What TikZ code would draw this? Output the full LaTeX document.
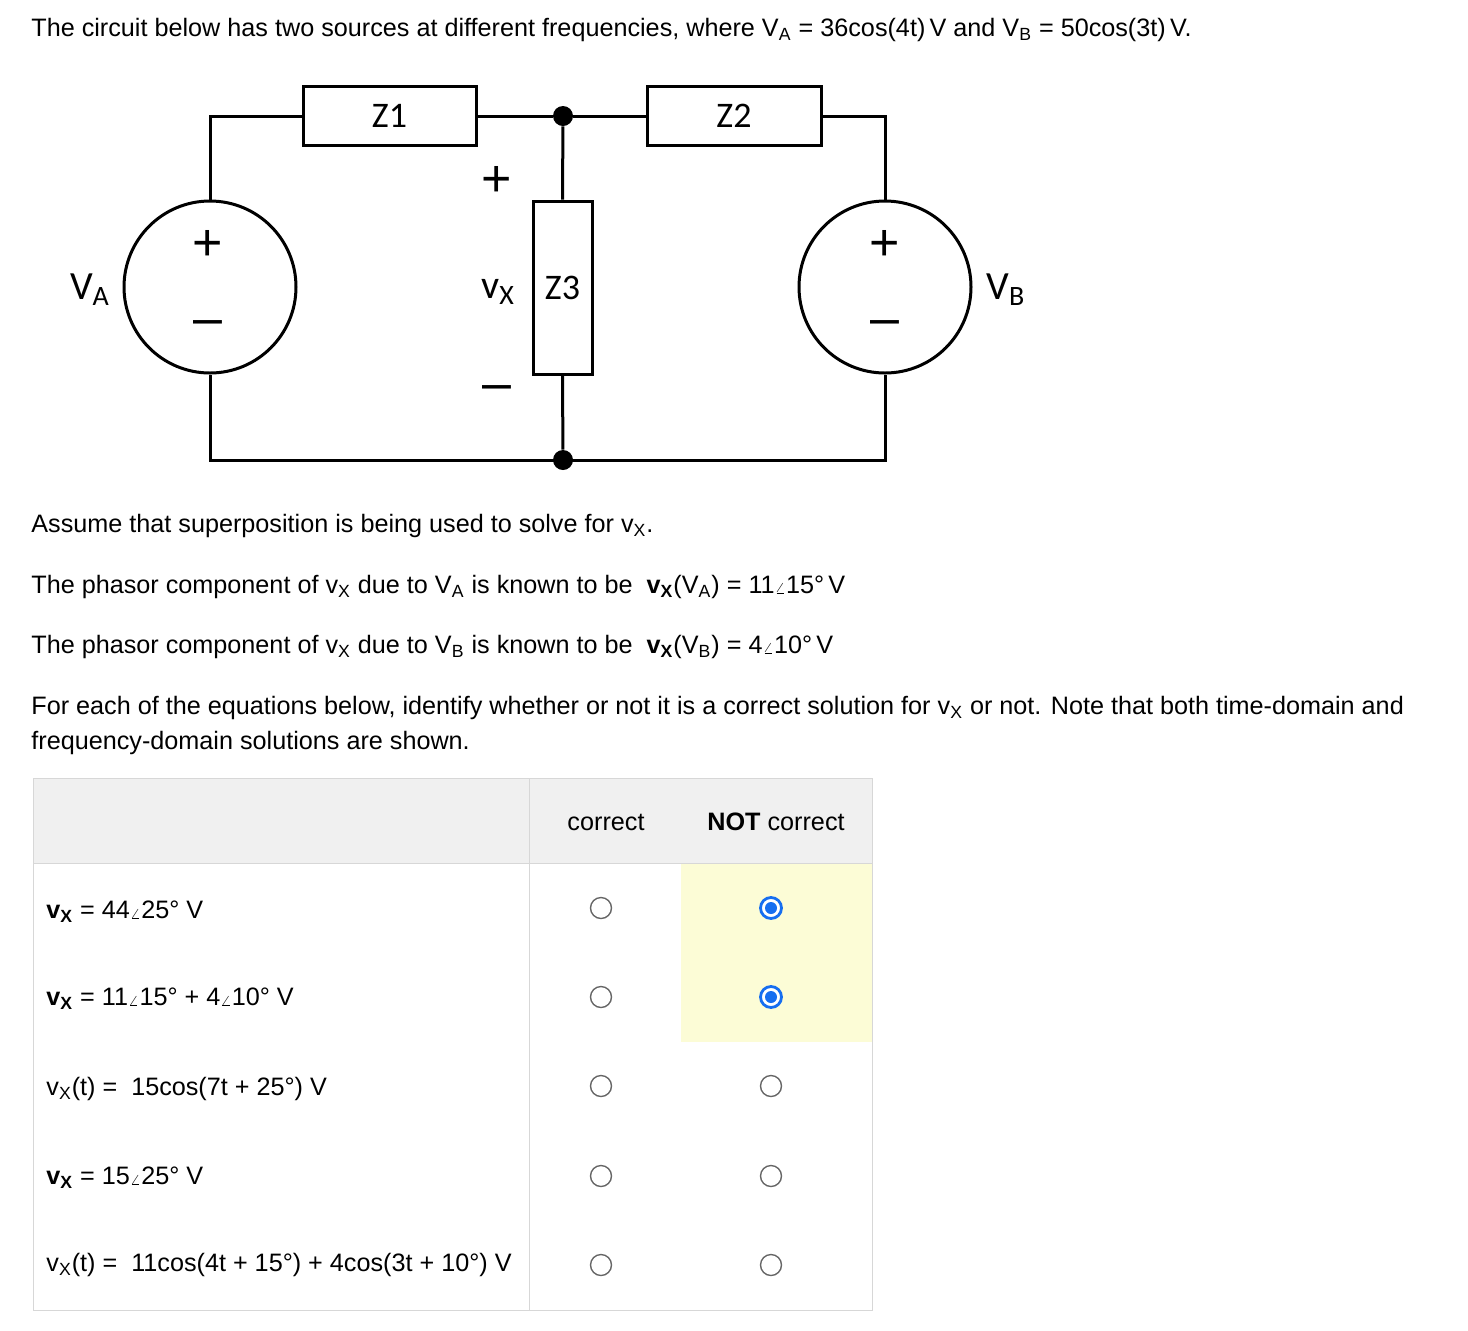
\documentclass[tikz,border=0pt]{standalone}
\usepackage{fontspec}
\setmainfont{Liberation Sans}
\newfontfamily\circfont{Carlito}
\usetikzlibrary{positioning}
\definecolor{headgray}{RGB}{240,240,240}
\definecolor{rowyellow}{RGB}{252,252,214}
\definecolor{radioblue}{RGB}{22,110,240}
\definecolor{rulegray}{RGB}{215,215,215}
\newcommand{\ang}{{\scriptsize$\angle$}}
\newcommand{\vxb}{\textbf{v\textsubscript{X}}}
\tikzset{
  wire/.style={line width=1.5pt},
  imp/.style={draw, line width=1.5pt, rectangle, inner sep=0pt, font=\circfont\fontsize{18}{18}\selectfont},
  source/.style={draw, line width=1.5pt, circle, minimum size=86pt, inner sep=0pt},
  junc/.style={circle, fill, inner sep=0pt, minimum size=10pt},
  sign/.style={font=\fontsize{26}{26}\selectfont},
  clabel/.style={font=\circfont\fontsize{20}{20}\selectfont},
  para/.style={anchor=west, font=\fontsize{12.6}{17}\selectfont, inner sep=0pt},
  cell/.style={anchor=west, font=\fontsize{12.6}{14}\selectfont, inner sep=0pt},
  radio/.style={circle, draw=black!60, line width=0.7pt, minimum size=10.5pt, inner sep=0pt},
  radioon/.style={circle, draw=radioblue, line width=1.4pt, fill=white, minimum size=10.5pt, inner sep=0pt,
    path picture={\fill[radioblue] (path picture bounding box.center) circle (3pt);}}
}
\begin{document}
\begin{tikzpicture}[x=0.5pt, y=-0.5pt]
    \useasboundingbox (0,0) rectangle (1468,1330);

    % Intro text
    \node[para] (intro) at (31,30) {The circuit below has two sources at different frequencies, where V\textsubscript{A} = 36cos(4t)\,V and V\textsubscript{B} = 50cos(3t)\,V.};

    % Circuit
    \node[imp, minimum width=86.5pt, minimum height=29.5pt] (z1) at (389.5,116) {Z1};
    \node[imp, minimum width=87pt, minimum height=29.5pt] (z2) at (734,116) {Z2};
    \node[imp, minimum width=29.5pt, minimum height=86.5pt] (z3) at (562.5,287.5) {Z3};
    \node[source] (va) at (210,287) {};
    \node[source] (vb) at (885,287) {};
    \node[junc] (ntop) at (563,116) {};
    \node[junc] (nbot) at (563,460) {};
    \coordinate (tl) at (210,116);
    \coordinate (tr) at (885,116);
    \coordinate (bl) at (210,460);
    \coordinate (br) at (885,460);

    \draw[wire] (va.north) -- (tl) -- (z1.west);
    \draw[wire] (z1.east) -- (ntop) -- (z2.west);
    \draw[wire] (z2.east) -- (tr) -- (vb.north);
    \draw[wire] (va.south) -- (bl) -- (br) -- (vb.south);
    \draw[wire] (ntop) -- (z3.north);
    \draw[wire] (z3.south) -- (nbot);

    \node[sign] at (208,245) {+};
    \node[sign] at (208,328) {--};
    \node[sign] at (885,245) {+};
    \node[sign] at (885,328) {--};
    \node[sign] at (497,181) {+};
    \node[sign] at (497,393) {--};
    \node[clabel] at (90,290) {V\textsubscript{A}};
    \node[clabel] at (1006,290) {V\textsubscript{B}};
    \node[clabel] at (498,292) {v\textsubscript{X}};

    % Question text
    \node[para] at (31,526) {Assume that superposition is being used to solve for v\textsubscript{X}.};
    \node[para] at (31,587) {The phasor component of v\textsubscript{X} due to V\textsubscript{A} is known to be \ \vxb(V\textsubscript{A}) = 11\ang15°\,V};
    \node[para] at (31,647) {The phasor component of v\textsubscript{X} due to V\textsubscript{B} is known to be \ \vxb(V\textsubscript{B}) = 4\ang10°\,V};
    \node[para] at (31,708) {For each of the equations below, identify whether or not it is a correct solution for v\textsubscript{X} or not. Note that both time-domain and};
    \node[para] at (31,743) {frequency-domain solutions are shown.};

    % Table
    \fill[headgray] (33,778) rectangle (872,863);
    \fill[rowyellow] (681,864) rectangle (872,1042);
    \draw[rulegray] (33,778) rectangle (872,1310);
    \draw[rulegray] (33,863) -- (872,863);
    \draw[rulegray] (529,778) -- (529,1310);
    \node[cell, anchor=center] at (606,822) {correct};
    \node[cell, anchor=center] at (776,822) {\textbf{NOT} correct};

    \node[cell] at (46,912) {\vxb{} = 44\ang25° V};
    \node[cell] at (46,999) {\vxb{} = 11\ang15° + 4\ang10° V};
    \node[cell] at (46,1089) {v\textsubscript{X}(t) = \ 15cos(7t + 25°) V};
    \node[cell] at (46,1178) {\vxb{} = 15\ang25° V};
    \node[cell] at (46,1265) {v\textsubscript{X}(t) = \ 11cos(4t + 15°) + 4cos(3t + 10°) V};

    \foreach \y/\on in {908/1, 997/1, 1086/0, 1176/0, 1265/0} {
        \node[radio] (c\y) at (601,\y) {};
        \ifnum\on=1
            \node[radioon] (n\y) at (771,\y) {};
        \else
            \node[radio] (n\y) at (771,\y) {};
        \fi
    }
\end{tikzpicture}
\end{document}
